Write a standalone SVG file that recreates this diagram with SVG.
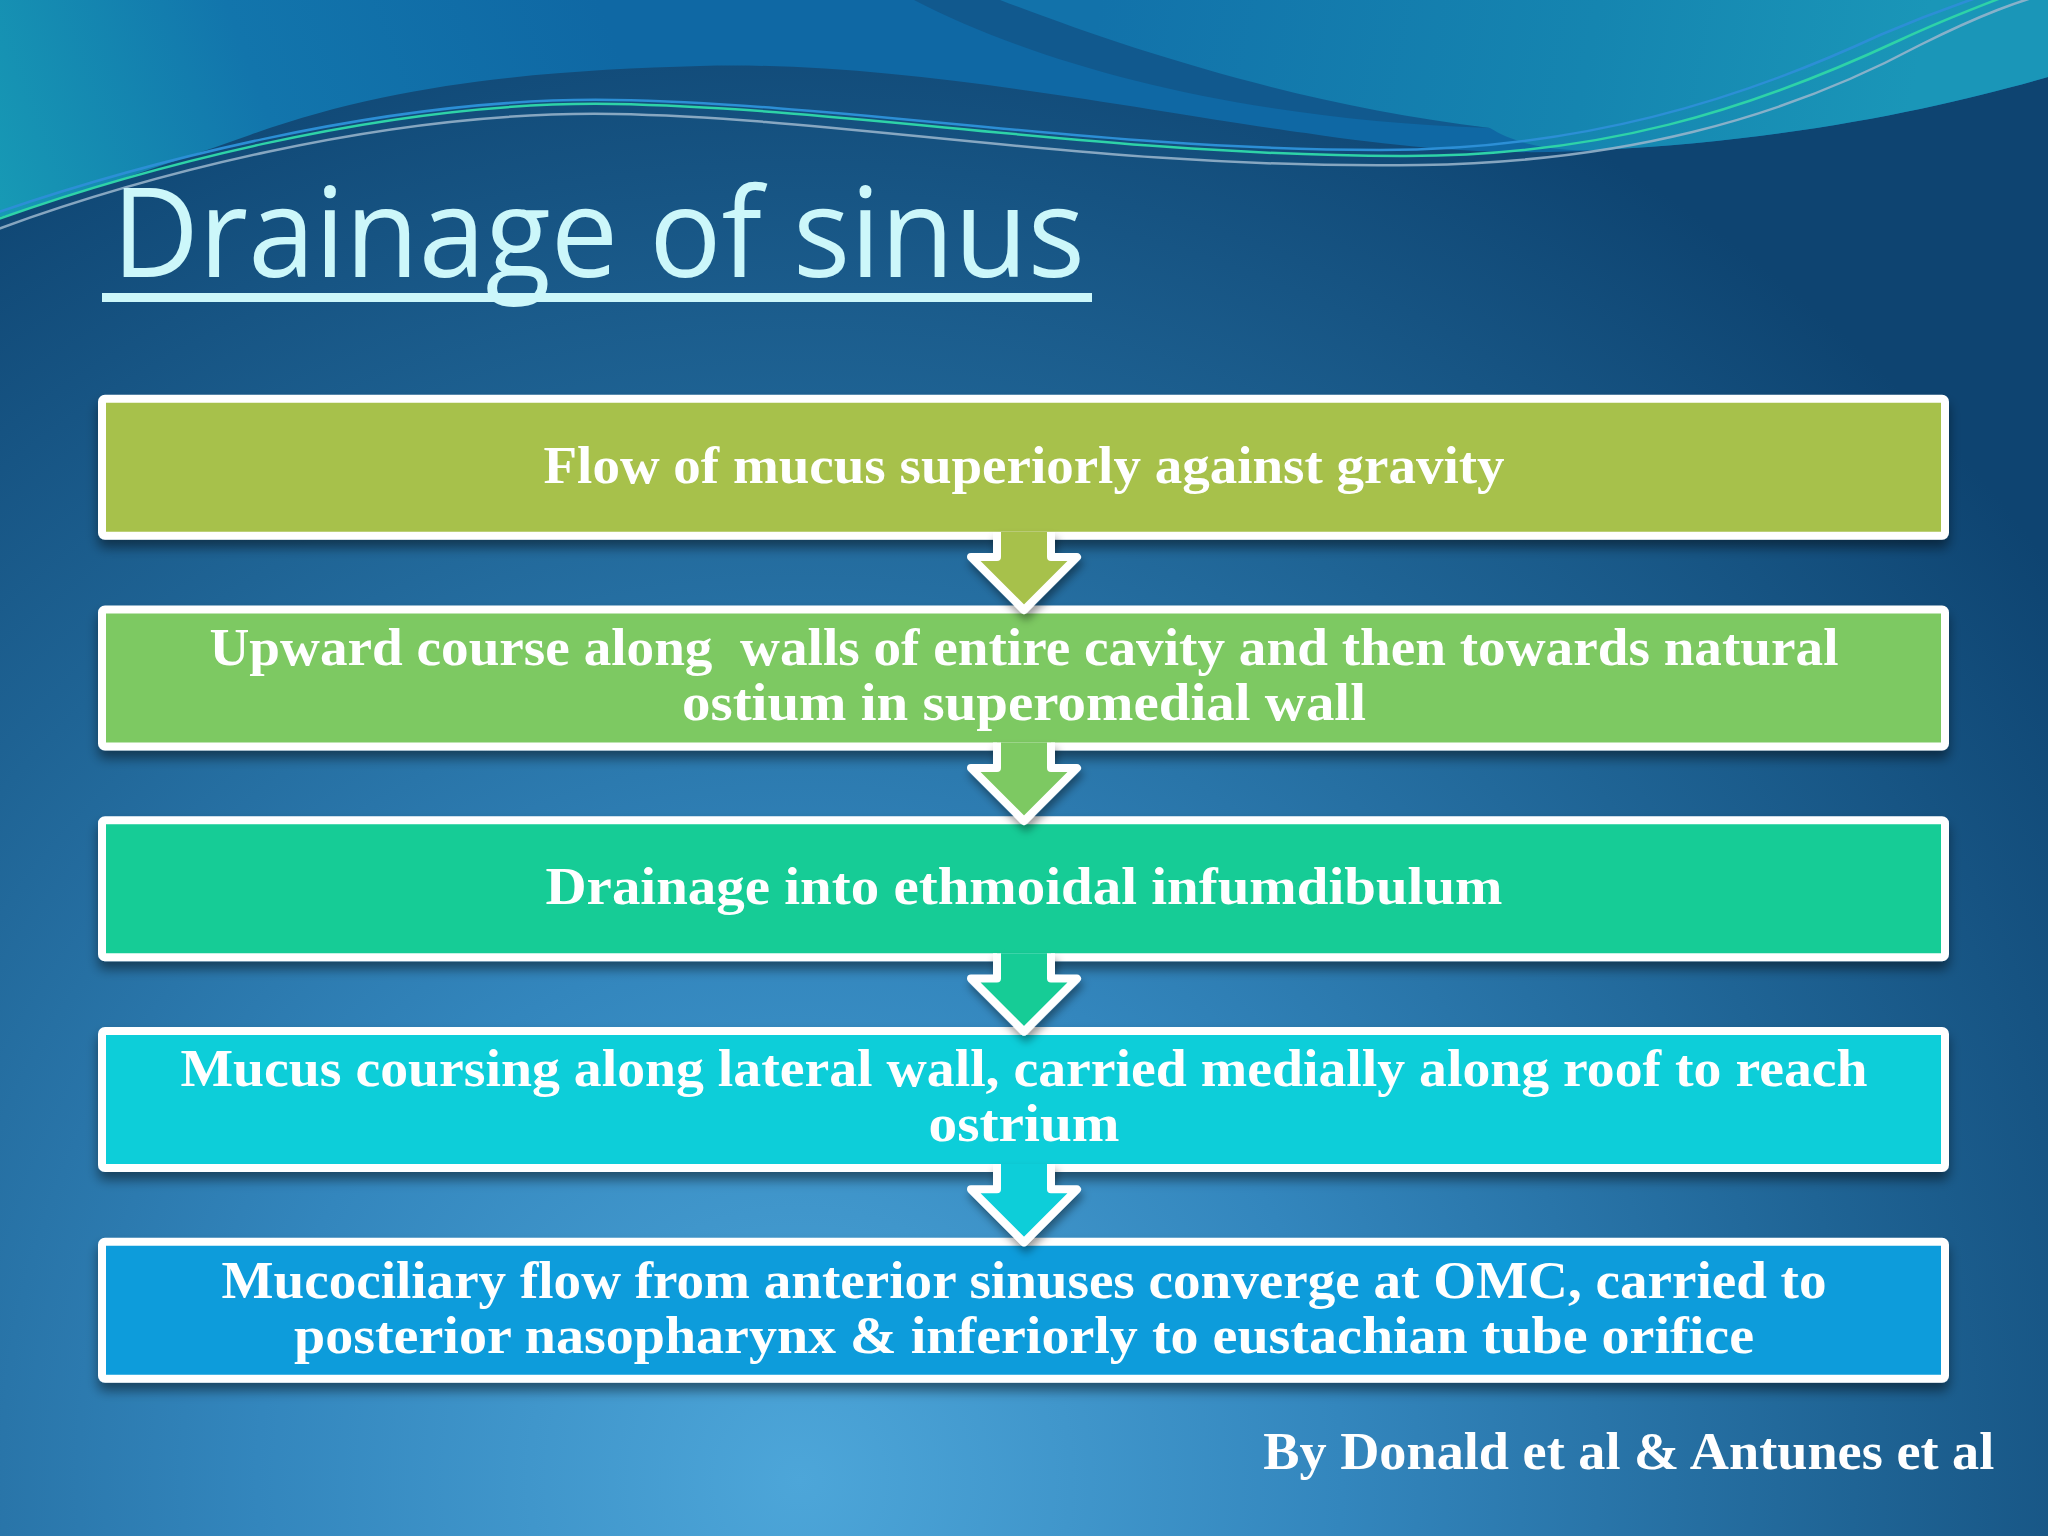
<svg xmlns="http://www.w3.org/2000/svg" width="2048" height="1536" viewBox="0 0 2048 1536">
<defs>
<radialGradient id="bg" gradientUnits="userSpaceOnUse" cx="800" cy="1480" r="1550">
<stop offset="0" stop-color="#4DA6D9"/>
<stop offset="0.35" stop-color="#3386BD"/>
<stop offset="0.68" stop-color="#1F6495"/>
<stop offset="1" stop-color="#0E4471"/>
</radialGradient>
<linearGradient id="waveL" gradientUnits="userSpaceOnUse" x1="0" y1="220" x2="600" y2="0">
<stop offset="0" stop-color="#179AB5"/>
<stop offset="0.45" stop-color="#1275AC"/>
<stop offset="1" stop-color="#0F68A4"/>
</linearGradient>
<linearGradient id="waveR" gradientUnits="userSpaceOnUse" x1="1100" y1="0" x2="1900" y2="160">
<stop offset="0" stop-color="#1272AA"/>
<stop offset="0.6" stop-color="#1585B0"/>
<stop offset="1" stop-color="#1A96B8"/>
</linearGradient>
<filter id="sh" x="-5%" y="-20%" width="110%" height="150%">
<feDropShadow dx="0" dy="8" stdDeviation="6" flood-color="#000" flood-opacity="0.45"/>
</filter>
<filter id="ash" x="-30%" y="-30%" width="160%" height="160%">
<feDropShadow dx="2" dy="6" stdDeviation="4" flood-color="#000" flood-opacity="0.4"/>
</filter>
</defs>
<style>
.box{stroke:#FFFFFF;stroke-width:8;}
.t{font-family:"Liberation Serif","Times New Roman",serif;font-weight:bold;font-size:52px;fill:#FFFFFF;text-anchor:middle;}
.arr{stroke:#FFFFFF;stroke-width:8;stroke-linejoin:round;}
.ln{fill:none;stroke-width:2.5;}
</style>

<rect x="0" y="0" width="2048" height="1536" fill="url(#bg)"/>

<g id="background-waves">
<path d="M0 0 H2048 V77 C1950 105 1800 140 1600 150 C1520 155 1430 152 1306 133 C1150 112 900 60 700 66 C560 70 400 80 250 135 C150 170 60 200 0 217 Z" fill="url(#waveL)"/>
<path d="M993 0 H2048 V77 C1950 105 1800 140 1600 150 C1540 152 1510 140 1490 128 C1300 110 1150 60 993 0 Z" fill="url(#waveR)"/>
<path d="M914 0 C1050 70 1250 120 1490 128 C1300 105 1130 50 1000 0 Z" fill="#11598E"/>
<path class="ln" stroke="#2C8FD6" d="M-10 215 C120 170 380 96 614 100 C850 104 1100 150 1380 150 C1580 150 1740 100 1880 35 C1950 5 2000 -10 2048 -25"/>
<path class="ln" stroke="#9BB6CC" stroke-opacity="0.85" d="M-10 232 C130 180 380 110 614 114 C850 118 1100 170 1420 165 C1620 162 1780 120 1920 45 C1980 15 2020 0 2060 -10"/>
<path class="ln" stroke="#2ED3A8" d="M-10 222 C120 175 380 100 614 104 C850 108 1100 155 1400 156 C1600 157 1750 110 1900 40 C1960 12 2010 -5 2048 -20"/>
</g>

<g id="title">
<text x="112" y="277" font-family="'Open Sans','Noto Sans',sans-serif" font-size="124" fill="#CCF7FA" textLength="973" lengthAdjust="spacingAndGlyphs">Drainage of sinus</text>
<rect x="102" y="293" width="990" height="9" fill="#CCF7FA"/>
</g>

<g id="node1">
<rect class="box" x="102" y="398.7" width="1843" height="137" rx="3" fill="#A7C14C" filter="url(#sh)"/>
<text class="t" x="1024" y="482.7" textLength="961" lengthAdjust="spacingAndGlyphs">Flow of mucus superiorly against gravity</text>
</g>
<g id="node2">
<rect class="box" x="102" y="609.5" width="1843" height="137" rx="3" fill="#7DC962" filter="url(#sh)"/>
<text class="t" x="1024" y="665" textLength="1629" lengthAdjust="spacingAndGlyphs" xml:space="preserve" style="white-space:pre">Upward course along  walls of entire cavity and then towards natural</text>
<text class="t" x="1024" y="720" textLength="684" lengthAdjust="spacingAndGlyphs">ostium in superomedial wall</text>
</g>
<g id="node3">
<rect class="box" x="102" y="820.3" width="1843" height="137" rx="3" fill="#13CC96" filter="url(#sh)"/>
<text class="t" x="1024" y="904.3" textLength="957" lengthAdjust="spacingAndGlyphs">Drainage into ethmoidal infumdibulum</text>
</g>
<g id="node4">
<rect class="box" x="102" y="1031" width="1843" height="137" rx="3" fill="#0ECED9" filter="url(#sh)"/>
<text class="t" x="1024" y="1086" textLength="1687" lengthAdjust="spacingAndGlyphs">Mucus coursing along lateral wall, carried medially along roof to reach</text>
<text class="t" x="1024" y="1141" textLength="191" lengthAdjust="spacingAndGlyphs">ostrium</text>
</g>
<g id="node5">
<rect class="box" x="102" y="1241.8" width="1843" height="137" rx="3" fill="#0A9CDB" filter="url(#sh)"/>
<text class="t" x="1024" y="1298.3" textLength="1605" lengthAdjust="spacingAndGlyphs">Mucociliary flow from anterior sinuses converge at OMC, carried to</text>
<text class="t" x="1024" y="1353.3" textLength="1460" lengthAdjust="spacingAndGlyphs">posterior nasopharynx &amp; inferiorly to eustachian tube orifice</text>
</g>

<g id="connectors" filter="url(#ash)">
<path class="arr" fill="#A7C14C" d="M997 532 V557 H971 L1024 610 L1077 557 H1051 V532"/>
<path class="arr" fill="#7DC962" d="M997 742.5 V768 H971 L1024 821 L1077 768 H1051 V742.5"/>
<path class="arr" fill="#13CC96" d="M997 953.3 V978.6 H971 L1024 1031.6 L1077 978.6 H1051 V953.3"/>
<path class="arr" fill="#0ECED9" d="M997 1164 V1189.3 H971 L1024 1242.3 L1077 1189.3 H1051 V1164"/>
</g>

<g id="footer">
<text class="t" x="1263.3" y="1469.3" style="text-anchor:start" textLength="731" lengthAdjust="spacingAndGlyphs">By Donald et al &amp; Antunes et al</text>
</g>
</svg>
